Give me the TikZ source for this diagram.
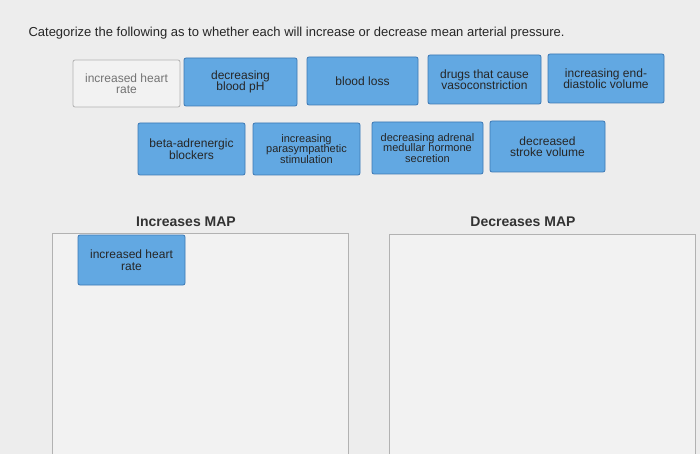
\documentclass[tikz,border=0pt]{standalone}
\usepackage{fontspec}
\setmainfont{Liberation Sans}
\definecolor{chipfill}{HTML}{62A8E2}
\definecolor{chipline}{HTML}{3C78B4}
\begin{document}
\begin{tikzpicture}[x=1pt,y=-1pt,
  chip/.style={draw=chipline,line width=0.8pt,fill=chipfill,rounded corners=2pt,
    align=center,font=\fontsize{12}{11.5}\selectfont,text=black!85,inner sep=1pt},
  ghost/.style={chip,draw=black!30,fill=white!95!black,text=black!55},
  panel/.style={draw=black!30,fill=white!95!black,line width=0.6pt},
  head/.style={font=\bfseries\fontsize{14}{14}\selectfont,text=black!80}]
\fill[black!7] (0,0) rectangle (700,454);
\useasboundingbox (0,0) rectangle (700,454);
\node[anchor=west,font=\fontsize{13}{13}\selectfont,text=black!85] (title) at (25,33) {Categorize the following as to whether each will increase or decrease mean arterial pressure.};
\node[ghost,minimum width=107,minimum height=47] (a1) at (126.5,83.5) {increased heart\\rate};
\node[chip,minimum width=113,minimum height=48] (a2) at (240.5,82) {decreasing\\blood pH};
\node[chip,minimum width=111,minimum height=48] (a3) at (362.5,81) {blood loss};
\node[chip,minimum width=113,minimum height=49] (a4) at (484.5,79.5) {drugs that cause\\vasoconstriction};
\node[chip,minimum width=116,minimum height=49] (a5) at (606,78.5) {increasing end-\\diastolic volume};
\node[chip,minimum width=107,minimum height=52] (b1) at (191.5,149) {beta-adrenergic\\blockers};
\node[chip,minimum width=107,minimum height=52,font=\fontsize{11}{10.5}\selectfont] (b2) at (306.5,149) {increasing\\parasympathetic\\stimulation};
\node[chip,minimum width=111,minimum height=52,font=\fontsize{11}{10.5}\selectfont] (b3) at (427.5,148) {decreasing adrenal\\medullar hormone\\secretion};
\node[chip,minimum width=115,minimum height=51] (b4) at (547.5,146.5) {decreased\\stroke volume};
\node[head] (h1) at (186,222) {Increases MAP};
\node[head] (h2) at (523,222) {Decreases MAP};
\draw[panel] (52,233) rectangle (348,460);
\draw[panel] (389,234) rectangle (695,460);
\node[chip,minimum width=107,minimum height=50] (p1) at (131.5,260) {increased heart\\rate};
\end{tikzpicture}
\end{document}
